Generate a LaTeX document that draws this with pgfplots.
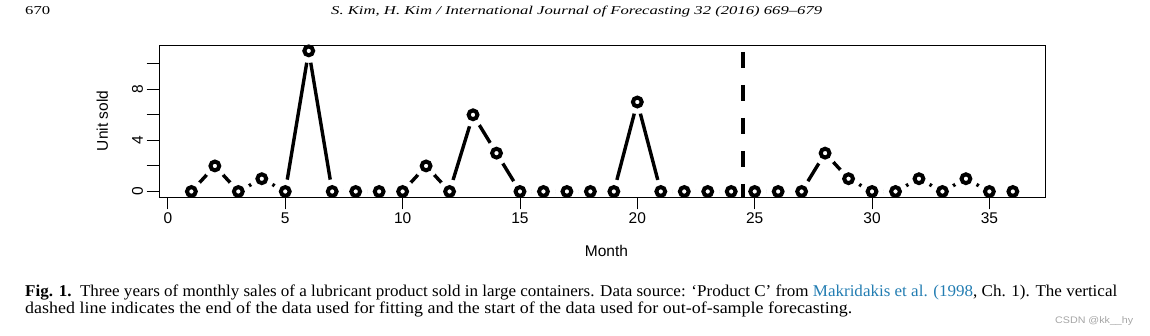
\documentclass[border=0pt]{standalone}
\usepackage{fontspec}
\usepackage{graphicx}
\usepackage{xcolor}
\usepackage{pgfplots}
\pgfplotsset{compat=1.18}
\newfontfamily\capfont[Ligatures=TeX]{Liberation Serif}
\newfontfamily\rfont{Liberation Sans}
\definecolor{citeblue}{RGB}{35,125,178}
\pgfplotstableread{
m u
1 0
2 2
3 0
4 1
5 0
6 11
7 0
8 0
9 0
10 0
11 2
12 0
13 6
14 3
15 0
16 0
17 0
18 0
19 0
20 7
21 0
22 0
23 0
24 0
25 0
26 0
27 0
28 3
29 1
30 0
31 0
32 1
33 0
34 1
35 0
36 0
}\sales
\begin{document}
\begin{tikzpicture}[x=1pt,y=1pt]
\path[use as bounding box] (0,0) rectangle (1150,336);
\begin{axis}[
  at={(159pt,139pt)}, anchor=south west,
  width=886pt, height=152pt, scale only axis,
  xmin=-0.38, xmax=37.37, ymin=-0.43, ymax=11.46,
  xtick={0,5,...,35}, ytick={0,2,...,10}, yticklabels={0,,4,,8,},
  tick align=outside, tick pos=left, major tick length=12.5pt,
  every tick/.style={black, line width=0.9pt},
  axis line style={line width=0.9pt},
  axis on top, clip marker paths=true,
  /pgf/number format/assume math mode=true,
  ticklabel style={font=\rfont\fontsize{15.5}{16}\selectfont},
  yticklabel style={rotate=90, anchor=south},
  xlabel={Month}, ylabel={Unit sold},
  label style={font=\rfont\fontsize{15.5}{16}\selectfont},
  xlabel style={at={(axis description cs:0.505,-0.355)}, anchor=center},
  ylabel style={at={(axis description cs:-0.064,0.5)}, anchor=center, rotate=0},
]
\addplot[black, line width=3.4pt] table[x=m,y=u] {\sales};
\addplot[white, only marks, mark=*, mark size=11.9pt, mark options={fill=white, draw=none}] table[x=m,y=u] {\sales};
\addplot[black, line width=4.3pt, dash pattern=on 16pt off 17pt, dash phase=26pt] coordinates {(24.5,11.46) (24.5,-0.43)};
\addplot[black, only marks, mark=o, mark size=4.4pt, mark options={line width=4pt, draw=black, fill=white}] table[x=m,y=u] {\sales};
\end{axis}
\node[anchor=base west, inner sep=0] at (25,321) {\resizebox{25pt}{\height}{\capfont\fontsize{12}{12}\selectfont 670}};
\node[anchor=base west, inner sep=0] at (331,321) {\resizebox{491pt}{\height}{\capfont\itshape\fontsize{12}{12}\selectfont S. Kim, H. Kim / International Journal of Forecasting 32 (2016) 669–679}};
\node[anchor=base west, inner sep=0] at (25,39) {\resizebox{1092pt}{\height}{\capfont\fontsize{16.5}{17}\selectfont \textbf{Fig. 1.}\enspace Three years of monthly sales of a lubricant product sold in large containers. Data source: ‘Product C’ from \textcolor{citeblue}{Makridakis et al. (1998}, Ch. 1). The vertical}};
\node[anchor=base west, inner sep=0] at (25,22) {\resizebox{827pt}{\height}{\capfont\fontsize{16.5}{17}\selectfont dashed line indicates the end of the data used for fitting and the start of the data used for out-of-sample forecasting.}};
\node[anchor=base west, inner sep=0] at (1055,12.3) {\resizebox{78pt}{\height}{\rfont\fontsize{9.5}{10}\selectfont\color[RGB]{165,165,165} CSDN @kk\_\_hy}};
\end{tikzpicture}
\end{document}
